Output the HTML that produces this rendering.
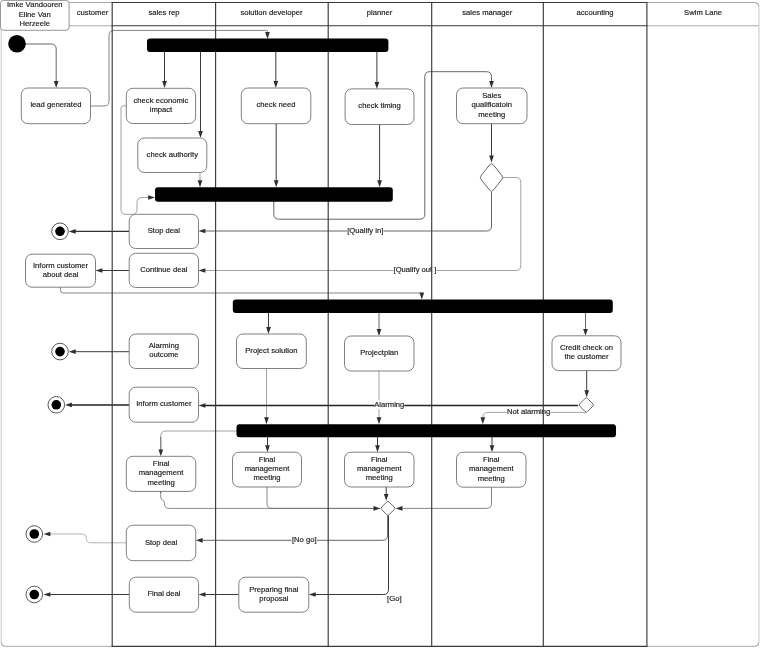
<!DOCTYPE html>
<html><head><meta charset="utf-8"><title>Activity diagram</title>
<style>
html,body{margin:0;padding:0;background:#fff;}
body{width:768px;height:652px;overflow:hidden;}
svg{display:block;will-change:transform;}
svg text{stroke:#222;stroke-width:0.18px;font-family:"Liberation Sans",sans-serif;}
</style></head><body>
<svg width="768" height="652" viewBox="0 0 768 652">
<rect width="768" height="652" fill="#fff"/>
<path d="M17,44 L51.2,44.0 Q56.2,44 56.2,49.0 L56.2,82.1" fill="none" stroke="#555" stroke-width="0.9"/>
<polygon points="56.2,88 53.85,81.1 58.55,81.1" fill="#2e2e2e"/>
<path d="M90.5,106 L104.0,106.0 Q109,106 109.0,101.0 L109.0,35.4 Q109,30.4 114.0,30.4 L266.5,30.4 Q267.5,30.4 267.5,31.4 L267.5,33.1" fill="none" stroke="#707070" stroke-width="0.85"/>
<polygon points="267.5,39 265.15,32.1 269.85,32.1" fill="#2e2e2e"/>
<path d="M164.5,52 L164.5,82.1" fill="none" stroke="#3a3a3a" stroke-width="1.0"/>
<polygon points="164.5,88 162.15,81.1 166.85,81.1" fill="#2e2e2e"/>
<path d="M200.5,52 L200.5,132.1" fill="none" stroke="#3a3a3a" stroke-width="1.0"/>
<polygon points="200.5,138 198.15,131.1 202.85,131.1" fill="#2e2e2e"/>
<path d="M275.8,52 L275.8,82.1" fill="none" stroke="#3a3a3a" stroke-width="1.0"/>
<polygon points="275.8,88 273.45,81.1 278.15,81.1" fill="#2e2e2e"/>
<path d="M376.9,52 L376.9,83.1" fill="none" stroke="#3a3a3a" stroke-width="1.0"/>
<polygon points="376.9,89 374.55,82.1 379.25,82.1" fill="#2e2e2e"/>
<path d="M126,105.8 L123.5,105.8 Q121,105.8 121.0,108.3 L121.0,209.3 Q121,214.3 126.0,214.3 L132.0,214.3 Q137,214.3 137.0,209.3 L137.0,202.5 Q137,197.5 142.0,197.5 L149.1,197.5" fill="none" stroke="#8a8a8a" stroke-width="0.8"/>
<polygon points="155,197.5 148.1,199.85 148.1,195.15" fill="#2e2e2e"/>
<path d="M200,172.5 L200.0,181.3" fill="none" stroke="#8a8a8a" stroke-width="0.8"/>
<polygon points="200,187.2 197.65,180.3 202.35,180.3" fill="#2e2e2e"/>
<path d="M276.2,123.7 L276.2,181.3" fill="none" stroke="#3a3a3a" stroke-width="1.0"/>
<polygon points="276.2,187.2 273.85,180.3 278.55,180.3" fill="#2e2e2e"/>
<path d="M379.6,124.5 L379.6,181.3" fill="none" stroke="#3a3a3a" stroke-width="1.0"/>
<polygon points="379.6,187.2 377.25,180.3 381.95,180.3" fill="#2e2e2e"/>
<path d="M273.8,201 L273.8,214.2 Q273.8,219.2 278.8,219.2 L419.8,219.2 Q424.8,219.2 424.8,214.2 L424.8,76.7 Q424.8,71.7 429.8,71.7 L486.5,71.7 Q491.5,71.7 491.5,76.7 L491.5,82.1" fill="none" stroke="#555" stroke-width="0.9"/>
<polygon points="491.5,88 489.15,81.1 493.85,81.1" fill="#2e2e2e"/>
<path d="M491.5,123.7 L491.5,156.6" fill="none" stroke="#3a3a3a" stroke-width="1.0"/>
<polygon points="491.5,162.5 489.15,155.6 493.85,155.6" fill="#2e2e2e"/>
<path d="M491.5,192 L491.5,226.0 Q491.5,231 486.5,231.0 L204.4,231.0" fill="none" stroke="#555" stroke-width="0.9"/>
<polygon points="198.5,231 205.4,228.65 205.4,233.35" fill="#2e2e2e"/>
<path d="M503,177.5 L515.8,177.5 Q520.8,177.5 520.8,182.5 L520.8,265.5 Q520.8,270.5 515.8,270.5 L204.4,270.5" fill="none" stroke="#8a8a8a" stroke-width="0.8"/>
<polygon points="198.5,270.5 205.4,268.15 205.4,272.85" fill="#2e2e2e"/>
<path d="M129,231.4 L74.7,231.4" fill="none" stroke="#333" stroke-width="1.25"/>
<polygon points="68.8,231.4 75.7,229.05 75.7,233.75" fill="#2e2e2e"/>
<path d="M129,270.5 L101.4,270.5" fill="none" stroke="#3a3a3a" stroke-width="1.0"/>
<polygon points="95.5,270.5 102.4,268.15 102.4,272.85" fill="#2e2e2e"/>
<path d="M60.5,287 L60.5,290.0 Q60.5,293 63.5,293.0 L420.8,293.0 Q421.8,293 421.8,294.0 L421.8,293.6" fill="none" stroke="#707070" stroke-width="0.85"/>
<polygon points="421.8,299.5 419.45,292.6 424.15,292.6" fill="#2e2e2e"/>
<path d="M268.5,313 L268.5,328.1" fill="none" stroke="#3a3a3a" stroke-width="1.0"/>
<polygon points="268.5,334 266.15,327.1 270.85,327.1" fill="#2e2e2e"/>
<path d="M379,313 L379.0,330.1" fill="none" stroke="#555" stroke-width="0.9"/>
<polygon points="379,336 376.65,329.1 381.35,329.1" fill="#2e2e2e"/>
<path d="M585.5,313 L585.5,329.9" fill="none" stroke="#555" stroke-width="0.9"/>
<polygon points="585.5,335.8 583.15,328.9 587.85,328.9" fill="#2e2e2e"/>
<path d="M129,351.7 L74.7,351.7" fill="none" stroke="#3a3a3a" stroke-width="1.0"/>
<polygon points="68.8,351.7 75.7,349.35 75.7,354.05" fill="#2e2e2e"/>
<path d="M129,404.9 L70.9,404.9" fill="none" stroke="#222" stroke-width="1.45"/>
<polygon points="65,404.9 71.9,402.55 71.9,407.25" fill="#2e2e2e"/>
<path d="M266.5,368.5 L266.5,418.3" fill="none" stroke="#8a8a8a" stroke-width="0.8"/>
<polygon points="266.5,424.2 264.15,417.3 268.85,417.3" fill="#2e2e2e"/>
<path d="M379,371 L379.0,418.3" fill="none" stroke="#8a8a8a" stroke-width="0.8"/>
<polygon points="379,424.2 376.65,417.3 381.35,417.3" fill="#2e2e2e"/>
<path d="M586.7,370.6 L586.7,391.3" fill="none" stroke="#3a3a3a" stroke-width="1.0"/>
<polygon points="586.7,397.2 584.35,390.3 589.05,390.3" fill="#2e2e2e"/>
<path d="M578,405.5 L204.4,405.5" fill="none" stroke="#222" stroke-width="1.45"/>
<polygon points="198.5,405.5 205.4,403.15 205.4,407.85" fill="#2e2e2e"/>
<path d="M586,412.4 L487.8,412.4 Q482.8,412.4 482.8,417.4 L482.8,418.3" fill="none" stroke="#8a8a8a" stroke-width="0.8"/>
<polygon points="482.8,424.2 480.45,417.3 485.15,417.3" fill="#2e2e2e"/>
<path d="M237,431 L165.8,431.0 Q160.8,431 160.8,436.0 L160.8,450.4" fill="none" stroke="#8a8a8a" stroke-width="0.8"/>
<polygon points="160.8,456.3 158.45,449.4 163.15,449.4" fill="#2e2e2e"/>
<line x1="160.8" y1="437" x2="160.8" y2="450" stroke="#555" stroke-width="0.7"/>
<path d="M267.5,437 L267.5,446.3" fill="none" stroke="#3a3a3a" stroke-width="1.0"/>
<polygon points="267.5,452.2 265.15,445.3 269.85,445.3" fill="#2e2e2e"/>
<path d="M377.5,437 L377.5,446.3" fill="none" stroke="#3a3a3a" stroke-width="1.0"/>
<polygon points="377.5,452.2 375.15,445.3 379.85,445.3" fill="#2e2e2e"/>
<path d="M492,437 L492.0,446.3" fill="none" stroke="#3a3a3a" stroke-width="1.0"/>
<polygon points="492,452.2 489.65,445.3 494.35,445.3" fill="#2e2e2e"/>
<path d="M160.7,491.5 V497 Q160.7,499.6 162.6,500.1 Q164.5,500.6 164.5,503 V503.6 Q164.5,508.4 169.3,508.4 H380" fill="none" stroke="#777" stroke-width="0.85"/>
<circle cx="160.7" cy="491.7" r="0.9" fill="#333"/>
<path d="M267,487 L267.0,503.4 Q267,508.4 272.0,508.4 L374.5,508.4" fill="none" stroke="#707070" stroke-width="0.85"/>
<polygon points="380.4,508.4 373.5,510.75 373.5,506.05" fill="#2e2e2e"/>
<path d="M386.2,487 L386.2,494.9" fill="none" stroke="#3a3a3a" stroke-width="1.0"/>
<polygon points="386.2,500.8 383.85,493.9 388.55,493.9" fill="#2e2e2e"/>
<path d="M491.5,487.2 L491.5,503.4 Q491.5,508.4 486.5,508.4 L401.5,508.4" fill="none" stroke="#707070" stroke-width="0.85"/>
<polygon points="395.6,508.4 402.5,506.05 402.5,510.75" fill="#2e2e2e"/>
<path d="M387.6,515.5 L387.6,535.3 Q387.6,540.3 382.6,540.3 L201.7,540.3" fill="none" stroke="#555" stroke-width="0.9"/>
<polygon points="195.8,540.3 202.7,537.95 202.7,542.65" fill="#2e2e2e"/>
<path d="M388.5,515.5 L388.5,589.5 Q388.5,594.5 383.5,594.5 L314.7,594.5" fill="none" stroke="#3a3a3a" stroke-width="1.0"/>
<polygon points="308.8,594.5 315.7,592.15 315.7,596.85" fill="#2e2e2e"/>
<path d="M238.8,594.5 L204.5,594.5" fill="none" stroke="#3a3a3a" stroke-width="1.0"/>
<polygon points="198.6,594.5 205.5,592.15 205.5,596.85" fill="#2e2e2e"/>
<path d="M129.3,594.5 L49.4,594.5" fill="none" stroke="#3a3a3a" stroke-width="1.0"/>
<polygon points="43.5,594.5 50.4,592.15 50.4,596.85" fill="#2e2e2e"/>
<path d="M126.3,542.8 L90.7,542.8 Q86.3,542.8 86.3,538.4 L86.3,538.4 Q86.3,534 81.9,534.0 L49.4,534.0" fill="none" stroke="#a2a2a2" stroke-width="0.8"/>
<polygon points="43.5,534 50.4,531.65 50.4,536.35" fill="#2e2e2e"/>
<rect x="347.05" y="226.2" width="36.5" height="9" fill="#fff"/>
<text x="365.3" y="232.85" font-size="7.65" fill="#222" text-anchor="middle">[Qualify in]</text>
<rect x="393.5" y="265.7" width="43" height="9" fill="#fff"/>
<text x="415" y="272.35" font-size="7.65" fill="#222" text-anchor="middle">[Qualify out ]</text>
<rect x="374.3" y="400.4" width="30" height="9" fill="#fff"/>
<text x="389.3" y="407.05" font-size="7.65" fill="#222" text-anchor="middle">Alarming</text>
<rect x="506.85" y="407.3" width="43.5" height="9" fill="#fff"/>
<text x="528.6" y="413.95" font-size="7.65" fill="#222" text-anchor="middle">Not alarming</text>
<rect x="291.55" y="535.5" width="25.5" height="9" fill="#fff"/>
<text x="304.3" y="542.15" font-size="7.65" fill="#222" text-anchor="middle">[No go]</text>
<rect x="387.3" y="594.1" width="14" height="9" fill="#fff"/>
<text x="394.3" y="600.75" font-size="7.65" fill="#222" text-anchor="middle">[Go]</text>
<path d="M112,2.5 H5.2 M5.2,646.3 H112 M1.2,25.75 H112" fill="none" stroke="#a0a0a0" stroke-width="0.9"/>
<path d="M5.2,2.5 Q1.2,2.5 1.2,6.5 M1.2,642.3 Q1.2,646.3 5.2,646.3" fill="none" stroke="#8a8a8a" stroke-width="0.9"/>
<path d="M1.2,6.5 V642.3" fill="none" stroke="#c2c2c2" stroke-width="0.9"/>
<path d="M647,2.5 H754.9 M754.9,646.3 H647 M647,25.75 H758.9" fill="none" stroke="#a0a0a0" stroke-width="0.9"/>
<path d="M754.9,2.5 Q758.9,2.5 758.9,6.5 M758.9,642.3 Q758.9,646.3 754.9,646.3" fill="none" stroke="#8a8a8a" stroke-width="0.9"/>
<path d="M758.9,6.5 V642.3" fill="none" stroke="#d4d4d4" stroke-width="1.3"/>
<text x="92.5" y="15.4" font-size="7.65" fill="#222" text-anchor="middle">customer</text>
<text x="164" y="15.4" font-size="7.65" fill="#222" text-anchor="middle">sales rep</text>
<text x="271.5" y="15.4" font-size="7.65" fill="#222" text-anchor="middle">solution developer</text>
<text x="379.5" y="15.4" font-size="7.65" fill="#222" text-anchor="middle">planner</text>
<text x="487.3" y="15.4" font-size="7.65" fill="#222" text-anchor="middle">sales manager</text>
<text x="595" y="15.4" font-size="7.65" fill="#222" text-anchor="middle">accounting</text>
<text x="703" y="15.4" font-size="7.65" fill="#222" text-anchor="middle">Swim Lane</text>
<path d="M112.2,2.5 H646.9 M112.2,25.75 H646.9 M112.2,646.3 H646.9" fill="none" stroke="#3a3a3a" stroke-width="1.15" stroke-linecap="square"/>
<line x1="112.2" y1="2.5" x2="112.2" y2="646.3" stroke="#3a3a3a" stroke-width="1.15"/>
<line x1="215.6" y1="2.5" x2="215.6" y2="646.3" stroke="#3a3a3a" stroke-width="1.15"/>
<line x1="328.2" y1="2.5" x2="328.2" y2="646.3" stroke="#3a3a3a" stroke-width="1.15"/>
<line x1="431.7" y1="2.5" x2="431.7" y2="646.3" stroke="#3a3a3a" stroke-width="1.15"/>
<line x1="543.3" y1="2.5" x2="543.3" y2="646.3" stroke="#3a3a3a" stroke-width="1.15"/>
<line x1="646.9" y1="2.5" x2="646.9" y2="646.3" stroke="#3a3a3a" stroke-width="1.15"/>
<rect x="147" y="38.6" width="241.4" height="13.3" rx="3" ry="3" fill="#000"/>
<rect x="155" y="187.2" width="237.8" height="14.5" rx="3" ry="3" fill="#000"/>
<rect x="232.8" y="299.5" width="380.0" height="13.5" rx="3" ry="3" fill="#000"/>
<rect x="236.5" y="424.2" width="379.5" height="13.0" rx="3" ry="3" fill="#000"/>
<rect x="0.5" y="0.4" width="68.6" height="29.9" rx="3.2" ry="3.2" fill="#fff" stroke="#8a8a8a" stroke-width="0.9"/>
<text x="34.7" y="7.45" font-size="7.65" fill="#222" text-anchor="middle">Imke Vandooren</text>
<text x="34.7" y="16.75" font-size="7.65" fill="#222" text-anchor="middle">Eline Van</text>
<text x="34.7" y="26.05" font-size="7.65" fill="#222" text-anchor="middle">Herzeele</text>
<rect x="21.3" y="88" width="69.2" height="35.7" rx="6.5" ry="6.5" fill="#fff" stroke="#6a6a6a" stroke-width="0.85"/>
<text x="55.9" y="107.4" font-size="7.65" fill="#222" text-anchor="middle">lead generated</text>
<rect x="126.3" y="88.3" width="69.3" height="35.2" rx="6.5" ry="6.5" fill="#fff" stroke="#6a6a6a" stroke-width="0.85"/>
<text x="160.95" y="102.8" font-size="7.65" fill="#222" text-anchor="middle">check economic</text>
<text x="160.95" y="112.1" font-size="7.65" fill="#222" text-anchor="middle">impact</text>
<rect x="137.8" y="138" width="69.0" height="34.5" rx="6.5" ry="6.5" fill="#fff" stroke="#6a6a6a" stroke-width="0.85"/>
<text x="172.3" y="156.8" font-size="7.65" fill="#222" text-anchor="middle">check authority</text>
<rect x="241.3" y="88" width="69.5" height="35.7" rx="6.5" ry="6.5" fill="#fff" stroke="#6a6a6a" stroke-width="0.85"/>
<text x="276.05" y="107.4" font-size="7.65" fill="#222" text-anchor="middle">check need</text>
<rect x="345.1" y="88.9" width="68.9" height="35.6" rx="6.5" ry="6.5" fill="#fff" stroke="#6a6a6a" stroke-width="0.85"/>
<text x="379.55" y="108.25" font-size="7.65" fill="#222" text-anchor="middle">check timing</text>
<rect x="456.5" y="88" width="70.5" height="35.7" rx="6.5" ry="6.5" fill="#fff" stroke="#6a6a6a" stroke-width="0.85"/>
<text x="491.75" y="98.1" font-size="7.65" fill="#222" text-anchor="middle">Sales</text>
<text x="491.75" y="107.4" font-size="7.65" fill="#222" text-anchor="middle">qualificatoin</text>
<text x="491.75" y="116.7" font-size="7.65" fill="#222" text-anchor="middle">meeting</text>
<rect x="129.2" y="214.3" width="69.3" height="34.2" rx="6.5" ry="6.5" fill="#fff" stroke="#6a6a6a" stroke-width="0.85"/>
<text x="163.85" y="232.95" font-size="7.65" fill="#222" text-anchor="middle">Stop deal</text>
<rect x="129.2" y="253.3" width="69.3" height="34.2" rx="6.5" ry="6.5" fill="#fff" stroke="#6a6a6a" stroke-width="0.85"/>
<text x="163.85" y="271.95" font-size="7.65" fill="#222" text-anchor="middle">Continue deal</text>
<rect x="25.5" y="254.2" width="70.0" height="33.0" rx="6.5" ry="6.5" fill="#fff" stroke="#6a6a6a" stroke-width="0.85"/>
<text x="60.5" y="267.6" font-size="7.65" fill="#222" text-anchor="middle">Inform customer</text>
<text x="60.5" y="276.9" font-size="7.65" fill="#222" text-anchor="middle">about deal</text>
<rect x="129.2" y="334" width="69.3" height="34.5" rx="6.5" ry="6.5" fill="#fff" stroke="#6a6a6a" stroke-width="0.85"/>
<text x="163.85" y="348.15" font-size="7.65" fill="#222" text-anchor="middle">Alarming</text>
<text x="163.85" y="357.45" font-size="7.65" fill="#222" text-anchor="middle">outcome</text>
<rect x="129.2" y="387.2" width="69.3" height="35.0" rx="6.5" ry="6.5" fill="#fff" stroke="#6a6a6a" stroke-width="0.85"/>
<text x="163.85" y="406.25" font-size="7.65" fill="#222" text-anchor="middle">Inform customer</text>
<rect x="236.5" y="334" width="69.8" height="34.5" rx="6.5" ry="6.5" fill="#fff" stroke="#6a6a6a" stroke-width="0.85"/>
<text x="271.4" y="352.8" font-size="7.65" fill="#222" text-anchor="middle">Project solution</text>
<rect x="344.5" y="336" width="69.5" height="35" rx="6.5" ry="6.5" fill="#fff" stroke="#6a6a6a" stroke-width="0.85"/>
<text x="379.25" y="355.05" font-size="7.65" fill="#222" text-anchor="middle">Projectplan</text>
<rect x="552" y="335.8" width="69" height="34.8" rx="6.5" ry="6.5" fill="#fff" stroke="#6a6a6a" stroke-width="0.85"/>
<text x="586.5" y="350.1" font-size="7.65" fill="#222" text-anchor="middle">Credit check on</text>
<text x="586.5" y="359.4" font-size="7.65" fill="#222" text-anchor="middle">the customer</text>
<rect x="126.3" y="456.3" width="69.5" height="35.1" rx="6.5" ry="6.5" fill="#fff" stroke="#6a6a6a" stroke-width="0.85"/>
<text x="161.05" y="466.1" font-size="7.65" fill="#222" text-anchor="middle">Final</text>
<text x="161.05" y="475.4" font-size="7.65" fill="#222" text-anchor="middle">management</text>
<text x="161.05" y="484.7" font-size="7.65" fill="#222" text-anchor="middle">meeting</text>
<rect x="232.5" y="452.2" width="69.0" height="34.8" rx="6.5" ry="6.5" fill="#fff" stroke="#6a6a6a" stroke-width="0.85"/>
<text x="267.0" y="461.85" font-size="7.65" fill="#222" text-anchor="middle">Final</text>
<text x="267.0" y="471.15" font-size="7.65" fill="#222" text-anchor="middle">management</text>
<text x="267.0" y="480.45" font-size="7.65" fill="#222" text-anchor="middle">meeting</text>
<rect x="344.5" y="452.2" width="69.5" height="34.8" rx="6.5" ry="6.5" fill="#fff" stroke="#6a6a6a" stroke-width="0.85"/>
<text x="379.25" y="461.85" font-size="7.65" fill="#222" text-anchor="middle">Final</text>
<text x="379.25" y="471.15" font-size="7.65" fill="#222" text-anchor="middle">management</text>
<text x="379.25" y="480.45" font-size="7.65" fill="#222" text-anchor="middle">meeting</text>
<rect x="456.5" y="452.2" width="69.5" height="35.0" rx="6.5" ry="6.5" fill="#fff" stroke="#6a6a6a" stroke-width="0.85"/>
<text x="491.25" y="461.95" font-size="7.65" fill="#222" text-anchor="middle">Final</text>
<text x="491.25" y="471.25" font-size="7.65" fill="#222" text-anchor="middle">management</text>
<text x="491.25" y="480.55" font-size="7.65" fill="#222" text-anchor="middle">meeting</text>
<rect x="126.3" y="525.2" width="69.5" height="35.5" rx="6.5" ry="6.5" fill="#fff" stroke="#6a6a6a" stroke-width="0.85"/>
<text x="161.05" y="544.5" font-size="7.65" fill="#222" text-anchor="middle">Stop deal</text>
<rect x="129.3" y="577.2" width="69.3" height="35.0" rx="6.5" ry="6.5" fill="#fff" stroke="#6a6a6a" stroke-width="0.85"/>
<text x="163.95" y="596.25" font-size="7.65" fill="#222" text-anchor="middle">Final deal</text>
<rect x="238.8" y="577.2" width="70.0" height="35.0" rx="6.5" ry="6.5" fill="#fff" stroke="#6a6a6a" stroke-width="0.85"/>
<text x="273.8" y="591.6" font-size="7.65" fill="#222" text-anchor="middle">Preparing final</text>
<text x="273.8" y="600.9" font-size="7.65" fill="#222" text-anchor="middle">proposal</text>
<circle cx="17" cy="43.7" r="8.8" fill="#000"/>
<circle cx="60" cy="231.3" r="8.3" fill="#fff" stroke="#444" stroke-width="0.9"/>
<circle cx="60" cy="231.3" r="4.8" fill="#000"/>
<circle cx="60" cy="351.6" r="8.3" fill="#fff" stroke="#444" stroke-width="0.9"/>
<circle cx="60" cy="351.6" r="4.8" fill="#000"/>
<circle cx="56.3" cy="404.8" r="8.3" fill="#fff" stroke="#444" stroke-width="0.9"/>
<circle cx="56.3" cy="404.8" r="4.8" fill="#000"/>
<circle cx="34.3" cy="534" r="8.3" fill="#fff" stroke="#444" stroke-width="0.9"/>
<circle cx="34.3" cy="534" r="4.8" fill="#000"/>
<circle cx="34.3" cy="594.5" r="8.3" fill="#fff" stroke="#444" stroke-width="0.9"/>
<circle cx="34.3" cy="594.5" r="4.8" fill="#000"/>
<path d="M489.63,164.84 Q491.5,162.5 493.37,164.84 L501.63,175.16 Q503.5,177.5 501.63,179.84 L493.37,190.16 Q491.5,192.5 489.63,190.16 L481.37,179.84 Q479.5,177.5 481.37,175.16 Z" fill="#fff" stroke="#555" stroke-width="0.9"/>
<path d="M585.17,398.43 Q586.3,397.3 587.43,398.43 L592.87,403.87 Q594.0,405 592.87,406.13 L587.43,411.57 Q586.3,412.7 585.17,411.57 L579.73,406.13 Q578.5999999999999,405 579.73,403.87 Z" fill="#fff" stroke="#555" stroke-width="0.9"/>
<path d="M386.77,501.93 Q387.9,500.8 389.03,501.93 L394.27,507.17 Q395.4,508.3 394.27,509.43 L389.03,514.67 Q387.9,515.8 386.77,514.67 L381.53,509.43 Q380.4,508.3 381.53,507.17 Z" fill="#fff" stroke="#555" stroke-width="0.9"/>
</svg>
</body></html>
